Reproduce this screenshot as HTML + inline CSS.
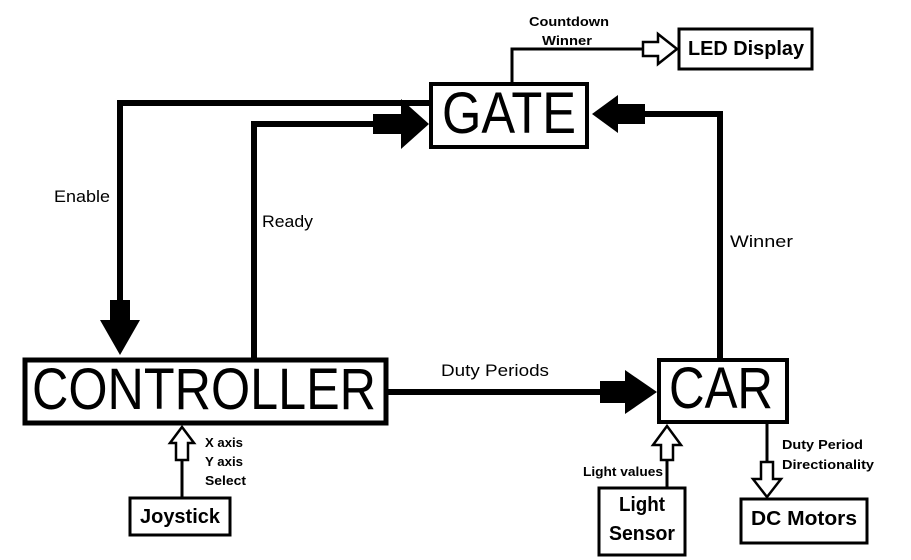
<!DOCTYPE html>
<html><head><meta charset="utf-8"><style>
html,body{margin:0;padding:0;background:#fff;}
svg{display:block;}
text{font-family:"Liberation Sans Narrow","Liberation Sans",sans-serif;fill:#000;}
</style></head><body>
<svg width="911" height="560" viewBox="0 0 911 560" xmlns="http://www.w3.org/2000/svg">
<g fill="none" stroke="#000">
<!-- boxes -->
<rect x="431" y="84" width="156" height="63" stroke-width="4"/>
<rect x="679" y="29" width="133" height="40" stroke-width="3"/>
<rect x="25" y="360" width="361" height="63" stroke-width="5"/>
<rect x="659" y="360" width="128" height="62" stroke-width="4"/>
<rect x="130" y="498" width="100" height="37" stroke-width="3"/>
<rect x="599" y="488" width="86" height="67" stroke-width="3"/>
<rect x="741" y="499" width="126" height="44" stroke-width="3"/>
<!-- gate to LED -->
<polyline points="512,82 512,49 645,49" stroke-width="3"/>
<!-- enable -->
<polyline points="431,103 120,103 120,305" stroke-width="6"/>
<!-- ready -->
<polyline points="254,358 254,124 375,124" stroke-width="6"/>
<!-- winner -->
<polyline points="720,358 720,114 645,114" stroke-width="6"/>
<!-- duty -->
<line x1="386" y1="392" x2="602" y2="392" stroke-width="6"/>
<!-- small lines -->
<line x1="182" y1="460" x2="182" y2="498" stroke-width="3"/>
<line x1="667" y1="460" x2="667" y2="488" stroke-width="3"/>
<line x1="767" y1="424" x2="767" y2="462" stroke-width="3"/>
</g>
<!-- solid arrows -->
<g fill="#000">
<polygon points="110,300 130,300 130,320 140,320 120,355 100,320 110,320"/>
<polygon points="373,114 401,114 401,99 429,124 401,149 401,134 373,134"/>
<polygon points="645,104 618,104 618,95 592,114 618,133 618,124 645,124"/>
<polygon points="600,381 625,381 625,370 657,392 625,414 625,403 600,403"/>
</g>
<!-- hollow arrows -->
<g fill="#fff" stroke="#000" stroke-width="2.5">
<polygon points="643,42 658,42 658,34 677,49 658,64 658,56 643,56"/>
<polygon points="176,460 176,443 170,443 182,427 194,443 188,443 188,460"/>
<polygon points="661,460 661,445 653,445 667,426 681,445 673,445 673,460"/>
<polygon points="761,462 773,462 773,479 781,479 767,497 753,479 761,479"/>
</g>
<!-- labels -->
<text x="509" y="133" font-size="58" text-anchor="middle" textLength="134" lengthAdjust="spacingAndGlyphs">GATE</text>
<text x="204" y="409" font-size="58" text-anchor="middle" textLength="344" lengthAdjust="spacingAndGlyphs">CONTROLLER</text>
<text x="721" y="408" font-size="58" text-anchor="middle" textLength="104" lengthAdjust="spacingAndGlyphs">CAR</text>
<text x="746" y="55" font-size="20" font-weight="bold" text-anchor="middle" textLength="116" lengthAdjust="spacingAndGlyphs">LED Display</text>
<text x="180" y="523" font-size="20" font-weight="bold" text-anchor="middle" textLength="80" lengthAdjust="spacingAndGlyphs">Joystick</text>
<text x="642" y="511" font-size="20" font-weight="bold" text-anchor="middle" textLength="46" lengthAdjust="spacingAndGlyphs">Light</text>
<text x="642" y="540" font-size="20" font-weight="bold" text-anchor="middle" textLength="66" lengthAdjust="spacingAndGlyphs">Sensor</text>
<text x="804" y="525" font-size="20" font-weight="bold" text-anchor="middle" textLength="106" lengthAdjust="spacingAndGlyphs">DC Motors</text>
<text x="569" y="26" font-size="13" font-weight="bold" text-anchor="middle" textLength="80" lengthAdjust="spacingAndGlyphs">Countdown</text>
<text x="567" y="45" font-size="13" font-weight="bold" text-anchor="middle" textLength="50" lengthAdjust="spacingAndGlyphs">Winner</text>
<text x="54" y="202" font-size="17" textLength="56" lengthAdjust="spacingAndGlyphs">Enable</text>
<text x="262" y="227" font-size="17" textLength="51" lengthAdjust="spacingAndGlyphs">Ready</text>
<text x="730" y="247" font-size="17" textLength="63" lengthAdjust="spacingAndGlyphs">Winner</text>
<text x="441" y="376" font-size="17" textLength="108" lengthAdjust="spacingAndGlyphs">Duty Periods</text>
<text x="205" y="447" font-size="13" font-weight="bold" textLength="38" lengthAdjust="spacingAndGlyphs">X axis</text>
<text x="205" y="466" font-size="13" font-weight="bold" textLength="38" lengthAdjust="spacingAndGlyphs">Y axis</text>
<text x="205" y="485" font-size="13" font-weight="bold" textLength="41" lengthAdjust="spacingAndGlyphs">Select</text>
<text x="583" y="476" font-size="13" font-weight="bold" textLength="80" lengthAdjust="spacingAndGlyphs">Light values</text>
<text x="782" y="449" font-size="13" font-weight="bold" textLength="81" lengthAdjust="spacingAndGlyphs">Duty Period</text>
<text x="782" y="469" font-size="13" font-weight="bold" textLength="92" lengthAdjust="spacingAndGlyphs">Directionality</text>
</svg>
</body></html>
